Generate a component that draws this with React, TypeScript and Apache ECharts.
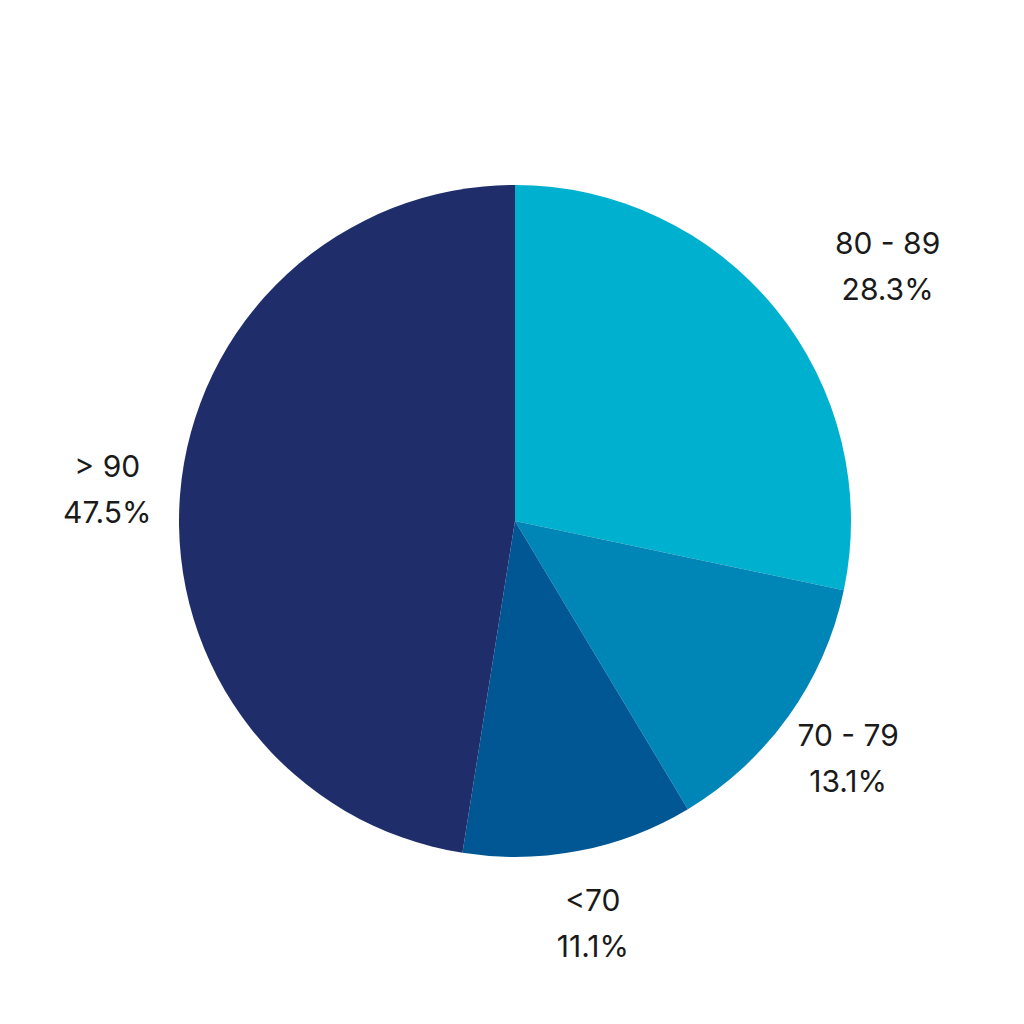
import React, { useEffect, useRef } from "react";
import * as echarts from "echarts";

const categories = ["80 - 89", "70 - 79", "<70", "> 90"];
const shares = [28.3, 13.1, 11.1, 47.5];
const colors = ["#00B0CF", "#0086B6", "#005794", "#1F2D6B"];

export default function App() {
  const ref = useRef<HTMLDivElement>(null);
  useEffect(() => {
    document.body.style.margin = "0";
    const chart = echarts.init(ref.current!, undefined, { renderer: "svg" });
    const data = categories.map((name, i) => ({
      name,
      value: shares[i],
      itemStyle: { color: colors[i] },
    }));
    chart.setOption({
      animation: false,
      backgroundColor: "#ffffff",
      series: [
        {
          type: "pie",
          center: [515, 521],
          radius: [0, 336],
          startAngle: 90,
          clockwise: true,
          silent: true,
          label: { show: false },
          labelLine: { show: false },
          data,
        },
        {
          type: "pie",
          center: [515, 521],
          radius: [380, 432],
          startAngle: 90,
          clockwise: true,
          silent: true,
          itemStyle: { color: "rgba(0,0,0,0)" },
          label: {
            show: true,
            position: "inside",
            formatter: "{b}\n{c}%",
            fontFamily: "Inter",
            fontSize: 30,
            lineHeight: 46,
            color: "#1a1a1a",
            align: "center",
          },
          labelLine: { show: false },
          labelLayout: (p: any) => (p.dataIndex === 0 ? { dx: 55, dy: 3 } : {}),
          data: categories.map((name, i) => ({
            name,
            value: shares[i],
            itemStyle: { color: "rgba(0,0,0,0)" },
          })),
        },
      ],
    });
    return () => chart.dispose();
  }, []);
  return <div ref={ref} style={{ width: 1024, height: 1024 }} />;
}
